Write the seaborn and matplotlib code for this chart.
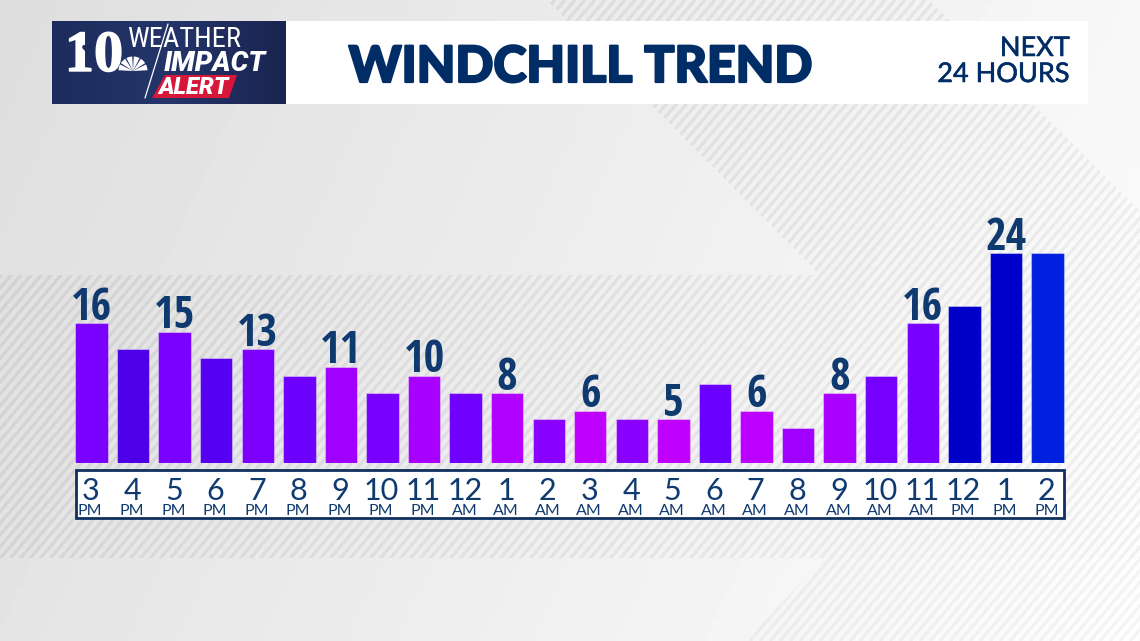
import numpy as np
import pandas as pd
import matplotlib
matplotlib.use("Agg")
import matplotlib.pyplot as plt
import matplotlib.patheffects as pe
import seaborn as sns
from matplotlib.collections import LineCollection
from matplotlib.patches import Circle, Polygon, Rectangle, Wedge

# values
hours = ["3", "4", "5", "6", "7", "8", "9", "10", "11", "12", "1", "2",
         "3", "4", "5", "6", "7", "8", "9", "10", "11", "12", "1", "2"]
periods = ["PM"] * 9 + ["AM"] * 12 + ["PM"] * 3
windchill = [16, 13, 15, 12, 13, 10, 11, 8, 10, 8, 8, 5,
             6, 5, 5, 9, 6, 4, 8, 10, 16, 18, 24, 24]
shown = [16, None, 15, None, 13, None, 11, None, 10, None, 8, None,
         6, None, 5, None, 6, None, 8, None, 16, None, 24, None]
bar_colors = ["#7a00ff", "#4f00e8", "#7a00ff", "#5500f0", "#7d00ff", "#6e00ff",
              "#a000ff", "#7800ff", "#a800ff", "#7000ff", "#b000ff", "#8a00ff",
              "#c000ff", "#8a00ff", "#bf00ff", "#6a00ff", "#bb00ff", "#a000ff",
              "#aa00ff", "#7500ff", "#7800ff", "#0000c8", "#0000cc", "#0020e0"]

NAVY = "#0f3a70"
TITLE_NAVY = "#002d66"
W, H = 1140, 641

sns.set_theme(style="white")
plt.rcParams["font.family"] = ["Lato", "DejaVu Sans"]

fig = plt.figure(figsize=(W / 100, H / 100), dpi=100)

# background layer, in pixel coordinates
bg = fig.add_axes([0, 0, 1, 1], zorder=0)
xx, yy = np.meshgrid(np.linspace(0, 1, 200), np.linspace(0, 1, 120))
bg.imshow(0.87 + 0.10 * xx + 0.025 * yy, cmap="gray", vmin=0, vmax=1,
          extent=(0, W, H, 0), aspect="auto", zorder=0)


def stripes(points, alpha_left, alpha_right):
    patch = Polygon(points, closed=True, facecolor="none", edgecolor="none")
    bg.add_patch(patch)
    starts = np.arange(-600, W + 50, 10.0)
    segs = [[(c, H), (c + 0.85 * H, 0)] for c in starts]
    mids = np.clip((starts + 0.42 * H) / W, 0, 1)
    cols = [(0, 0, 0, alpha_left + (alpha_right - alpha_left) * m) for m in mids]
    lines = LineCollection(segs, colors=cols, linewidths=2.3, zorder=1)
    bg.add_collection(lines)
    lines.set_clip_path(patch)


stripes([(547, 0), (929, 0), (1140, 211), (1140, 275), (820, 275)], 0.07, 0.05)
stripes([(0, 275), (1140, 275), (1140, 558), (0, 558)], 0.065, 0.05)
stripes([(825, 558), (1140, 558), (1140, 641), (745, 641)], 0.045, 0.04)

# header bar
bg.add_patch(Rectangle((286, 21), 802, 83, facecolor="white", edgecolor="none", zorder=2))
bg.imshow(np.linspace(0, 1, 100).reshape(1, -1),
          cmap=sns.blend_palette(["#1d2c5c", "#24356a", "#1a2450"], as_cmap=True),
          extent=(52, 286, 104, 21), aspect="auto", zorder=2)
bg.text(580, 82, "WINDCHILL TREND", color=TITLE_NAVY, fontsize=36, fontweight="black",
        ha="center", va="baseline", zorder=3,
        path_effects=[pe.withStroke(linewidth=1.6, foreground=TITLE_NAVY)])
for label, y in [("NEXT", 56), ("24 HOURS", 82)]:
    bg.text(1070, y, label, color=TITLE_NAVY, fontsize=19.5, ha="right", va="baseline", zorder=3,
            path_effects=[pe.withStroke(linewidth=0.4, foreground=TITLE_NAVY)])

# logo
bg.text(94, 71, "10", color="white", fontsize=42, fontweight="bold", family="Liberation Serif",
        ha="center", va="baseline", zorder=3,
        path_effects=[pe.withStroke(linewidth=1, foreground="white")])
bg.add_patch(Circle((84.3, 47), 2.1, facecolor="#1d2c5c", edgecolor="none", zorder=4))
bg.add_patch(Circle((88, 47), 2.1, facecolor="#1d2c5c", edgecolor="none", zorder=4))
bg.add_patch(Polygon([(82.4, 48), (89.9, 48), (86.15, 52.5)], closed=True,
                     facecolor="#1d2c5c", edgecolor="none", zorder=4))
bg.text(184, 47, "WEATHER", color="white", fontsize=20.5, family="Roboto Condensed",
        ha="center", va="baseline", zorder=3)
bg.text(214.5, 71, "IMPACT", color="white", fontsize=20, fontweight=900, style="italic", family="Roboto",
        ha="center", va="baseline", zorder=3)
bg.add_patch(Polygon([(165, 75), (237, 75), (229, 98), (152, 98)], closed=True,
                     facecolor="#d6173a", edgecolor="none", zorder=3))
bg.text(194, 94, "ALERT", color="white", fontsize=17, fontweight=900, style="italic", family="Roboto",
        ha="center", va="baseline", zorder=4)
bg.plot([168, 145], [24, 98], color="white", lw=0.9, zorder=4)
for a in range(6):
    bg.add_patch(Wedge((133, 71), 14.5, 180 + a * 30 + 3, 180 + (a + 1) * 30 - 3,
                       facecolor="white", edgecolor="none", zorder=3))

# time strip behind the tick labels
bg.add_patch(Rectangle((75.5, 469.5), 988, 48.5, facecolor="white", edgecolor="#0f2f5f",
                       linewidth=2, zorder=2))

bg.set_xlim(0, W)
bg.set_ylim(H, 0)
bg.axis("off")

# chart layer
left, right = 70.7, 1068.3
top, base = 200.5, 463
ax = fig.add_axes([left / W, 1 - base / H, (right - left) / W, (base - top) / H], zorder=1)
ax.patch.set_alpha(0)

df = pd.DataFrame({"slot": [h + " " + p for h, p in zip(hours, periods)], "windchill": windchill})
sns.barplot(data=df, x="slot", y="windchill", hue="slot", palette=bar_colors, legend=False,
            width=0.78, saturation=1, linewidth=0.8, edgecolor=(1, 1, 1, 0.35), ax=ax)

ax.set_ylim(0, 30)
ax.set_xlim(-0.5, 23.5)
ax.set_xlabel("")
ax.set_ylabel("")
ax.set_yticks([])
ax.set_xticks(np.arange(len(hours)) - 0.02)
ax.set_xticklabels(hours, fontsize=22, color=NAVY)
ax.tick_params(axis="x", length=0, pad=10)
sns.despine(ax=ax, left=True, bottom=True)

for i, p in enumerate(periods):
    ax.annotate(p, (i - 0.03, 0), xytext=(0, -34.5), textcoords="offset points", ha="center", va="center",
                fontsize=11.5, color=NAVY, annotation_clip=False)

for i, v in enumerate(shown):
    if v is not None:
        ax.annotate(str(v), (i, v), xytext=(0, 2.5), textcoords="offset points", ha="center",
                    va="baseline", fontsize=32, fontweight="bold", color=NAVY,
                    family="Open Sans Condensed")

fig.savefig("out.png", dpi=100)
